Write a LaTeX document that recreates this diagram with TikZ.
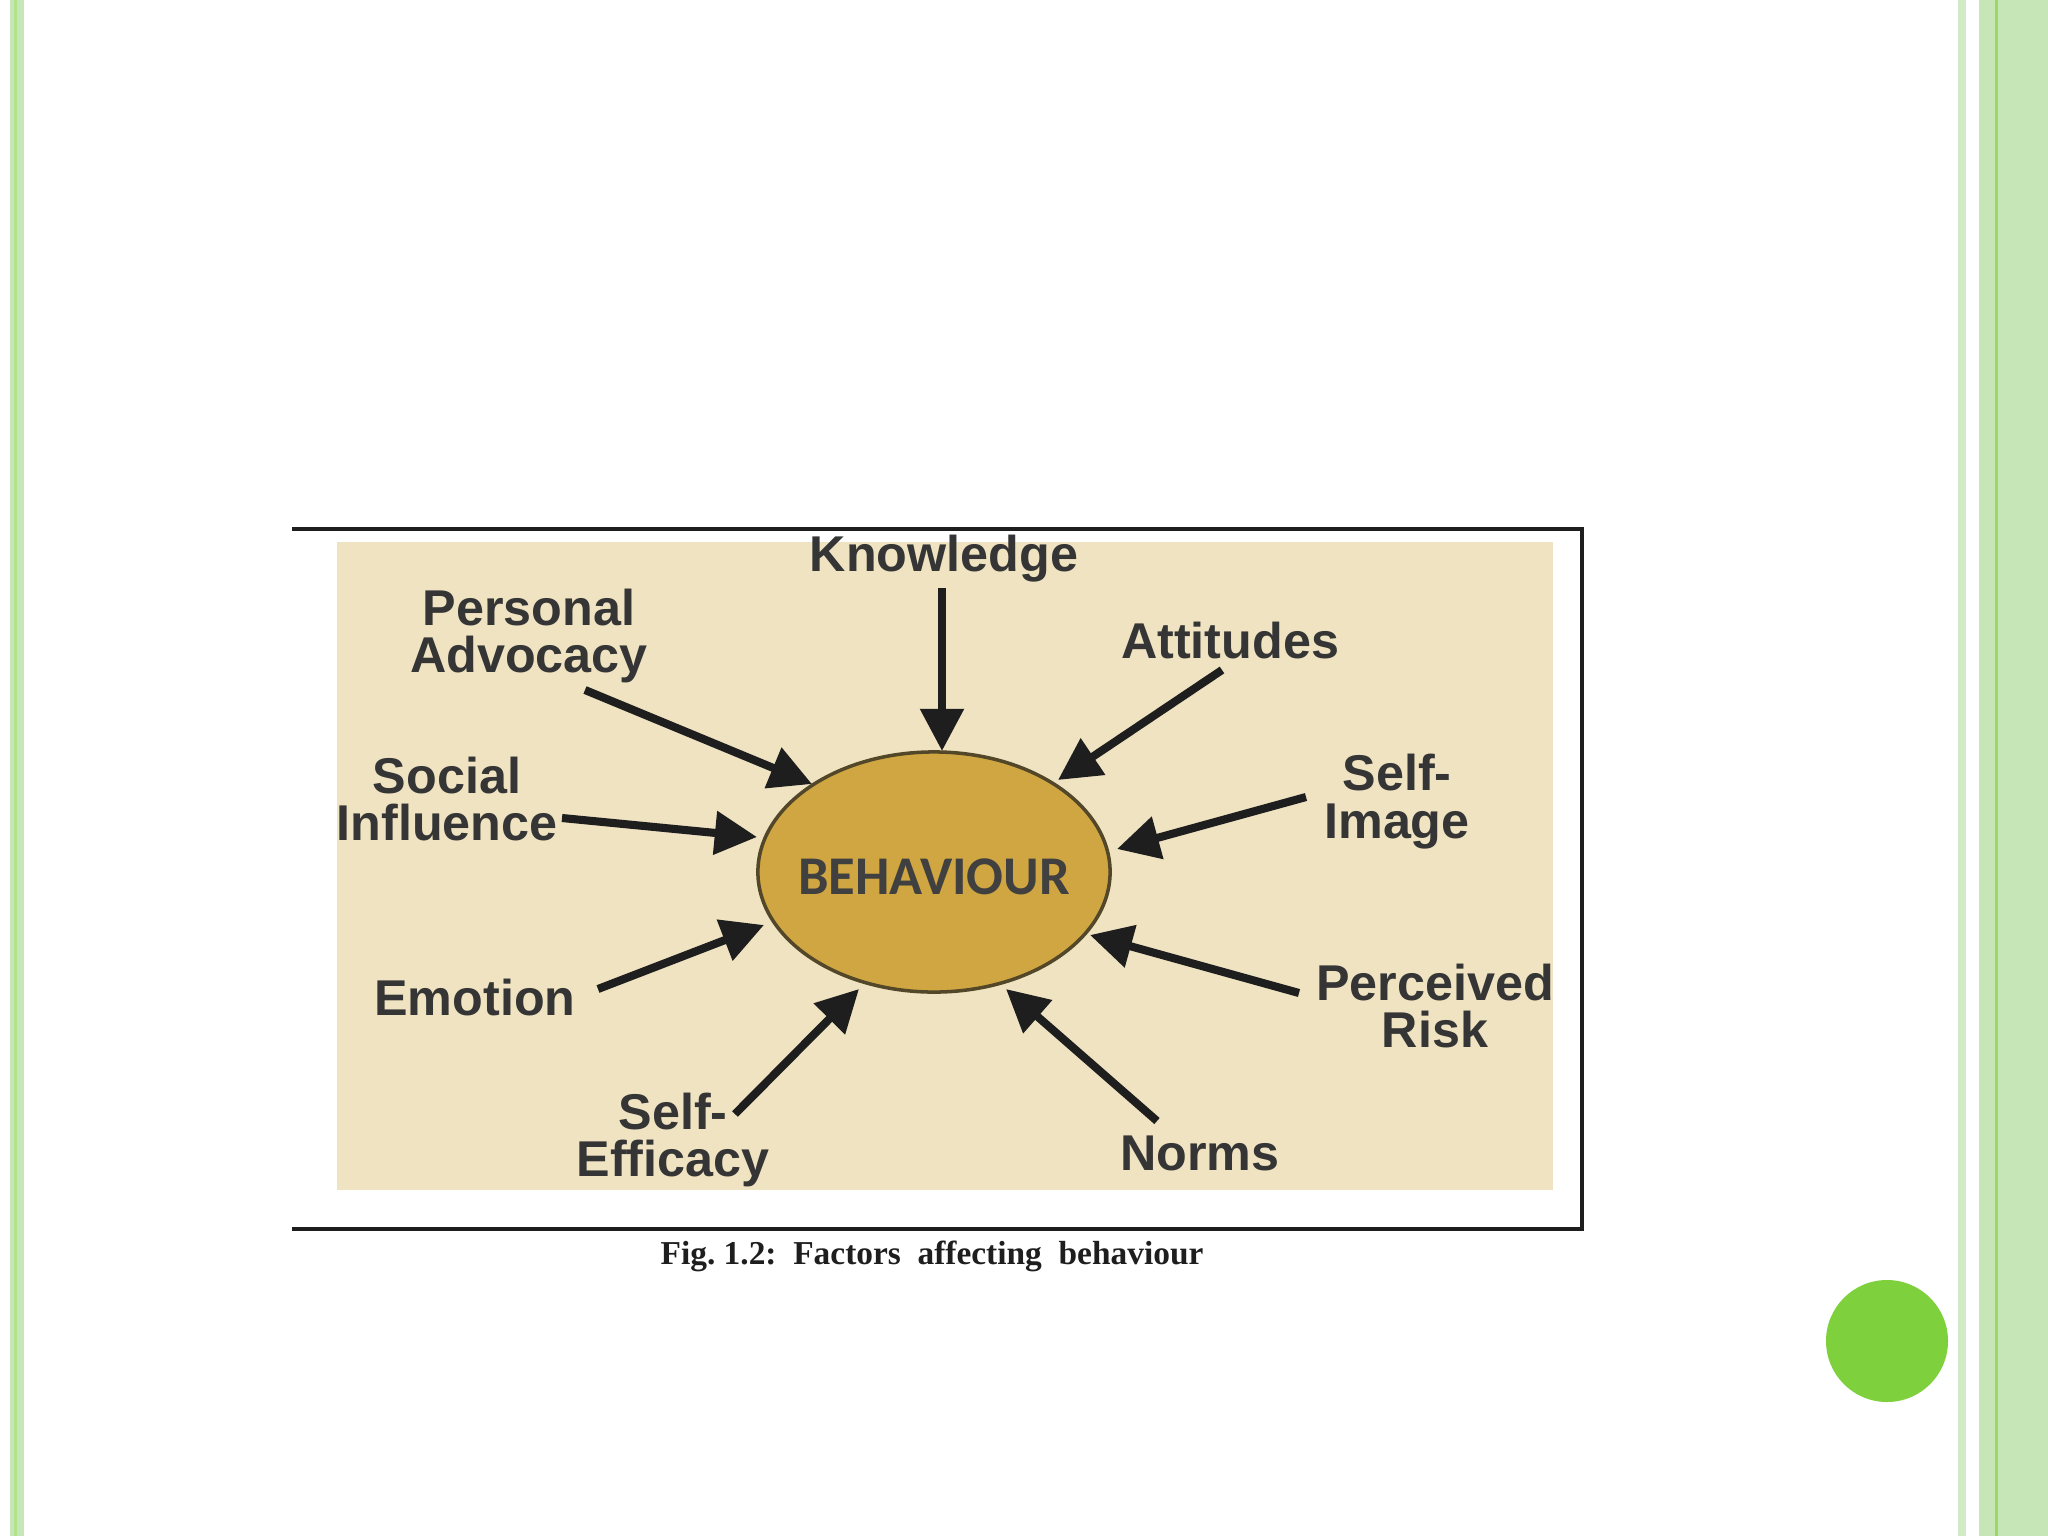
\documentclass[tikz,border=0pt]{standalone}
\usepackage{fontspec}
\setmainfont{Liberation Sans}
\newfontfamily\calfont{Carlito}
\newfontfamily\timesfont{Liberation Serif}
\usetikzlibrary{arrows.meta,shapes.geometric}
\definecolor{beige}{HTML}{EFE3C2}
\definecolor{gold}{HTML}{CFA641}
\definecolor{ink}{HTML}{1E1E1E}
\definecolor{gA}{HTML}{C6E6B8}
\definecolor{gB}{HTML}{7ED03C}
\tikzset{
  lbl/.style={font=\fontsize{14.3}{13.6}\selectfont\bfseries, text=ink!90, align=center, inner sep=0pt},
  arr/.style={draw=ink, line width=2.3pt, -{Triangle[length=12pt,width=12pt]}}
}
\begin{document}
\begin{tikzpicture}[x=0.01cm,y=-0.01cm]
\useasboundingbox (0,0) rectangle (2048,1536);
\fill[white] (0,0) rectangle (2048,1536);
% left border
\fill[gA] (10,0) rectangle (24,1536);
\fill[gB!60] (14,0) rectangle (17,1536);
% right border
\fill[gA!80] (1958,0) rectangle (1966,1536);
\fill[gA] (1979,0) rectangle (2048,1536);
\fill[gB!80] (1995,0) rectangle (1998,1536);
% frame
\draw[ink, line width=1.2pt] (292,529) -- (1582,529) -- (1582,1229) -- (292,1229);
\fill[beige] (337,542) rectangle (1553,1190);
\node[draw=ink!70!gold, line width=1pt, fill=gold, ellipse, minimum width=3.52cm, minimum height=2.4cm, inner sep=0pt] (b) at (934,872) {};
\node[font=\fontsize{15.5}{16}\selectfont\calfont\bfseries, text=ink!85] at (934,877) {BEHAVIOUR};
\node[lbl] (kn) at (944,559) {Knowledge};
\node[lbl] (pa) at (529,636) {Personal\\Advocacy};
\node[lbl] (at) at (1230,641) {Attitudes};
\node[lbl] (si) at (447,799) {Social\\Influence};
\node[lbl] (sim) at (1397,802) {Self-\\Image};
\node[lbl] (em) at (475,998) {Emotion};
\node[lbl] (pr) at (1435,1006) {Perceived\\Risk};
\node[lbl] (se) at (673,1140) {Self-\\Efficacy};
\node[lbl] (no) at (1200,1153) {Norms};
\coordinate (k1) at (942,588); \coordinate (k2) at (942,751);
\coordinate (p1) at (585,690); \coordinate (p2) at (812,784);
\coordinate (a1) at (1222,670); \coordinate (a2) at (1058,780);
\coordinate (s1) at (562,818); \coordinate (s2) at (757,837);
\coordinate (i1) at (1306,797); \coordinate (i2) at (1117,849);
\coordinate (e1) at (598,989); \coordinate (e2) at (764,925);
\coordinate (r1) at (1299,993); \coordinate (r2) at (1090,935);
\coordinate (f1) at (735,1114); \coordinate (f2) at (859,989);
\coordinate (n1) at (1157,1121); \coordinate (n2) at (1006,989);
\foreach \u/\v in {k1/k2,p1/p2,a1/a2,s1/s2,i1/i2,e1/e2,r1/r2,f1/f2,n1/n2}
  \draw[arr] (\u) -- (\v);
\node[font=\fontsize{9.5}{10}\selectfont\timesfont\bfseries, text=ink] (cap) at (932,1256) {Fig.\ 1.2:\ \ Factors\ \ affecting\ \ behaviour};
\fill[gB] (1887,1341) circle (61);
\end{tikzpicture}
\end{document}
